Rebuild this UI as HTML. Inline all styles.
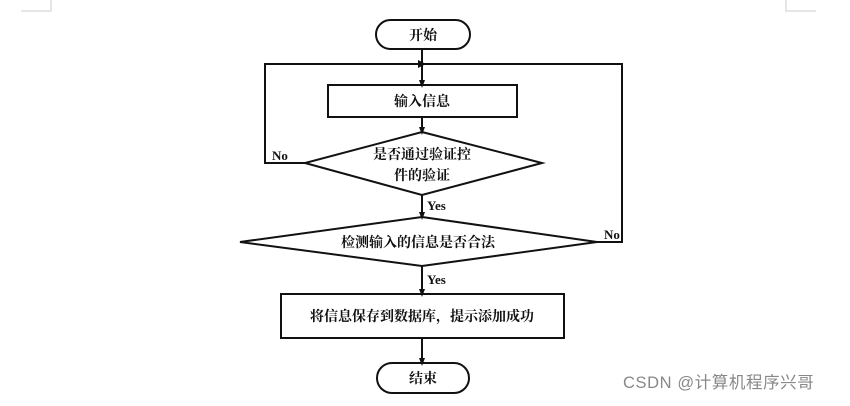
<!DOCTYPE html>
<html><head><meta charset="utf-8"><style>
body{margin:0;background:#fff;width:850px;height:401px;overflow:hidden}
svg text{font-family:"Liberation Serif","Noto Serif CJK SC","Noto Sans CJK SC",serif;font-weight:bold;fill:#111}
</style></head><body>
<svg width="850" height="401" viewBox="0 0 850 401" xmlns="http://www.w3.org/2000/svg">
<defs><marker id="a" markerWidth="8" markerHeight="8" refX="4" refY="4" orient="auto" markerUnits="userSpaceOnUse"><path d="M0,1 L8,4 L0,7Z" fill="#111"/></marker></defs>
<g stroke="#ccc" fill="none"><path d="M21,11H51V0"/><path d="M816,11H786V0"/></g>
<g stroke="#111" stroke-width="2" fill="none">
<rect x="376" y="20" width="94" height="29" rx="14.5"/>
<rect x="328" y="85" width="189" height="32"/>
<polygon points="422,132 542,163 422,195 305,163"/>
<polygon points="422,217 597,242 422,266 240,242"/>
<rect x="281" y="294" width="283" height="44"/>
<rect x="377" y="363" width="92" height="30" rx="15"/>
<path d="M422,49V84" marker-end="url(#a)"/>
<path d="M422,117V131" marker-end="url(#a)"/>
<path d="M422,195V216" marker-end="url(#a)"/>
<path d="M422,266V293" marker-end="url(#a)"/>
<path d="M422,338V362" marker-end="url(#a)"/>
<path d="M305,163H265V64H622V242H597"/>
</g>
<path d="M418,60L426,64L418,68Z" fill="#111"/>
<g font-size="14" text-anchor="middle">
<text x="423" y="40">开始</text>
<text x="422" y="106">输入信息</text>
<text x="422" y="159">是否通过验证控</text>
<text x="422" y="180">件的验证</text>
<text x="418" y="247">检测输入的信息是否合法</text>
<text x="422" y="321">将信息保存到数据库，提示添加成功</text>
<text x="423" y="383">结束</text>
</g>
<g font-size="13">
<text x="272" y="160">No</text>
<text x="427" y="210">Yes</text>
<text x="604" y="239">No</text>
<text x="427" y="284">Yes</text>
</g>
<text x="623" y="388" style="font-family:'Liberation Sans','Noto Sans CJK SC',sans-serif;font-weight:normal;fill:#888;letter-spacing:0.6px" font-size="16.5">CSDN @计算机程序兴哥</text>
</svg>
</body></html>
